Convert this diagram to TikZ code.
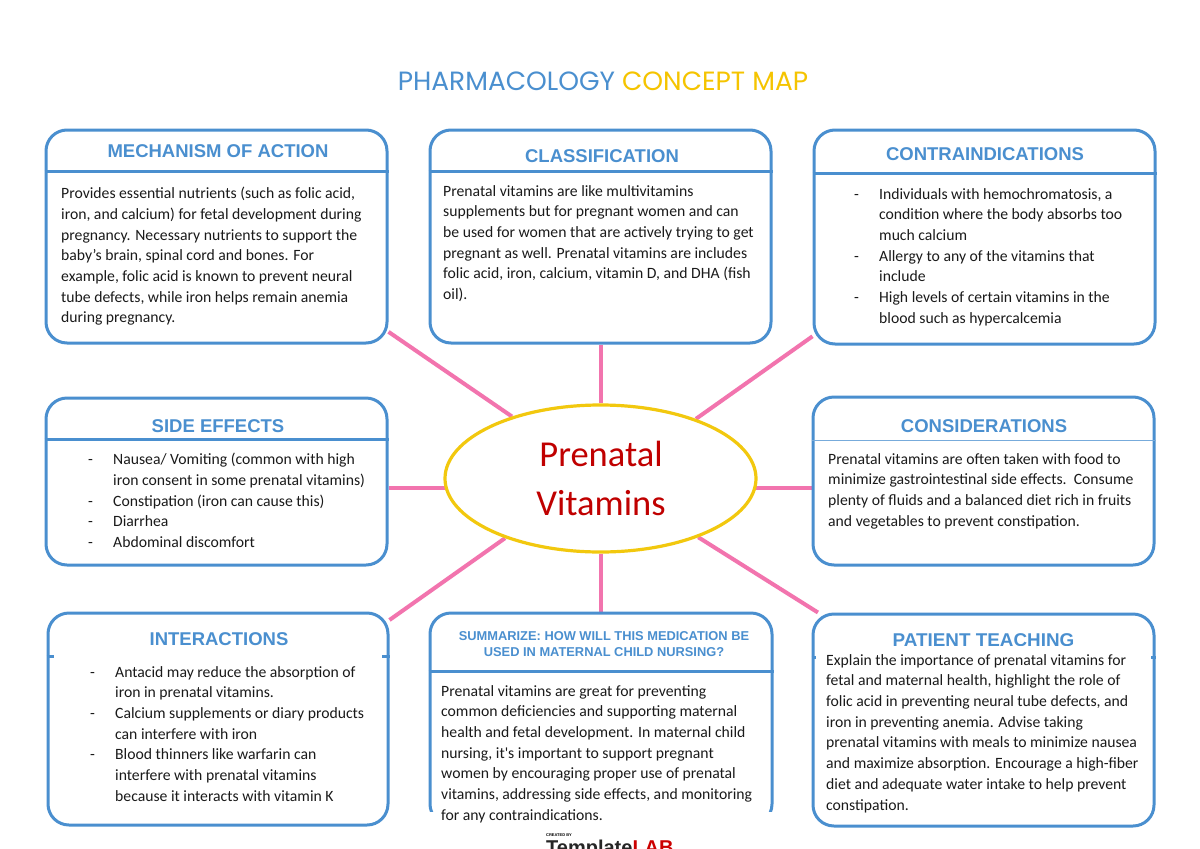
\documentclass[tikz,border=0pt]{standalone}
\usepackage{fontspec}
\setmainfont{Carlito}
\newfontfamily\headfont{Liberation Sans}[BoldFont={Liberation Sans Bold}]
\newfontfamily\titlefont{Poppins}
\usetikzlibrary{shapes.geometric,backgrounds}
\definecolor{boxblue}{HTML}{4A8FCF}
\definecolor{linkpink}{HTML}{F274AE}
\definecolor{ringyellow}{HTML}{F2C80E}
\definecolor{centrered}{HTML}{C00000}
\definecolor{titleyellow}{HTML}{F5C400}
\definecolor{bodyink}{HTML}{1A1A1A}
\newcommand{\di}{\makebox[25pt][l]{-}}
\newcommand{\ci}{\hspace*{25pt}}
\tikzset{
 cbox/.style={draw=boxblue,line width=3pt,rounded corners=21pt,fill=white,minimum width=341pt,inner sep=0pt},
 divider/.style={draw=boxblue,line width=2.6pt},
 link/.style={draw=linkpink,line width=4pt},
 head/.style={font=\headfont\bfseries\fontsize{18.5}{20}\selectfont,text=boxblue,align=center,inner sep=0pt},
 body/.style={font=\fontsize{15.7}{20.7}\selectfont,text=bodyink,align=left,anchor=north west,inner sep=0pt},
}
\begin{document}
\begin{tikzpicture}[x=1pt,y=-1pt]
\useasboundingbox (0,0) rectangle (1200,849);

\node[font=\titlefont\fontsize{26.4}{30}\selectfont,inner sep=0pt] (title) at (603,81) {\textcolor{boxblue}{PHARMACOLOGY} \textcolor{titleyellow}{CONCEPT MAP}};

\node[ellipse,draw=ringyellow,line width=3.2pt,fill=white,minimum width=311pt,minimum height=147pt,inner sep=0pt] (hub) at (600.5,478.5) {};
\node[font=\fontsize{36.5}{48.5}\selectfont,text=centrered,align=center,inner sep=0pt] (hublabel) at (601,478.5) {Prenatal\\Vitamins};
\coordinate (hubrow) at (600.5,487.5);

\node[cbox,minimum height=213pt] (moab) at (216.5,236.5) {};
\node[cbox,minimum height=213pt] (clsb) at (600.5,236.5) {};
\node[cbox,minimum height=214pt] (conb) at (984.5,237) {};
\node[cbox,minimum height=167pt] (sidb) at (216.5,481.5) {};
\node[cbox,minimum height=168pt] (cnsb) at (983.5,481) {};
\node[cbox,minimum width=340pt,minimum height=212pt] (intb) at (218,719) {};
\node[cbox,minimum width=342pt,minimum height=212pt] (sumb) at (601,719) {};
\node[cbox,minimum height=212pt] (patb) at (983.5,720) {};

\begin{scope}[on background layer]
\fill[white] (0,0) rectangle (1200,849);
\draw[link] (hub.145.7) -- (moab.-29.5);
\draw[link] (hub) -- (hub |- clsb.south);
\draw[link] (hub.32.4) -- (conb.210.7);
\draw[link] (hubrow) -- (sidb.east |- hubrow);
\draw[link] (hubrow) -- (cnsb.west |- hubrow);
\draw[link] (hub.212.7) -- (intb.30.8);
\draw[link] (hub) -- (hub |- sumb.north);
\draw[link] (hub.-31.2) -- (patb.147.8);
\end{scope}

\fill[white] (425,812) rectangle (780,835);

\draw[divider] ([yshift=-43pt]moab.north west) -- ([yshift=-43pt]moab.north east);
\draw[divider] ([yshift=-43pt]clsb.north west) -- ([yshift=-43pt]clsb.north east);
\draw[divider] ([yshift=-45pt]conb.north west) -- ([yshift=-45pt]conb.north east);
\draw[divider] ([yshift=-43pt]sidb.north west) -- ([yshift=-43pt]sidb.north east);
\draw[divider,line width=1.6pt,draw=boxblue!75] ([yshift=-45pt]cnsb.north west) -- ([yshift=-45pt]cnsb.north east);
\draw[divider] ([yshift=-60pt]sumb.north west) -- ([yshift=-60pt]sumb.north east);
\draw[divider] ([yshift=-45pt]intb.north west) -- ([yshift=-45pt]intb.north east);
\draw[divider] ([yshift=-45pt]patb.north west) -- ([yshift=-45pt]patb.north east);
% text boxes of the original lie over these two dividers
\fill[white] (54,648) rectangle (382,668);
\fill[white] (816,648) rectangle (1151,668);

\node[head] (h1) at (218,151.5) {MECHANISM OF ACTION};
\node[head] (h2) at (602,156.5) {CLASSIFICATION};
\node[head] (h3) at (985,154.5) {CONTRAINDICATIONS};
\node[head] (h4) at (218,426) {SIDE EFFECTS};
\node[head] (h5) at (984,426) {CONSIDERATIONS};
\node[head] (h6) at (219,639) {INTERACTIONS};
\node[head,font=\headfont\bfseries\fontsize{12.85}{15.6}\selectfont] (h7) at (604,644) {SUMMARIZE: HOW WILL THIS MEDICATION BE\\USED IN MATERNAL CHILD NURSING?};
\node[head] (h8) at (983.5,640) {\scalebox{1.02}[1]{PATIENT TEACHING}};
\fill[white] (816,645.5) rectangle (1151,650);

\node[body] (t1) at (61,187) {Provides essential nutrients (such as folic acid,\\iron, and calcium) for fetal development during\\pregnancy. Necessary nutrients to support the\\baby’s brain, spinal cord and bones. For\\example, folic acid is known to prevent neural\\tube defects, while iron helps remain anemia\\during pregnancy.};
\node[body] (t2) at (443,185) {Prenatal vitamins are like multivitamins\\supplements but for pregnant women and can\\be used for women that are actively trying to get\\pregnant as well. Prenatal vitamins are includes\\folic acid, iron, calcium, vitamin D, and DHA (fish\\oil).};
\node[body] (t3) at (854,188) {\di Individuals with hemochromatosis, a\\\ci condition where the body absorbs too\\\ci much calcium\\\di Allergy to any of the vitamins that\\\ci include\\\di High levels of certain vitamins in the\\\ci blood such as hypercalcemia};
\node[body] (t4) at (88,453) {\di Nausea/ Vomiting (common with high\\\ci iron consent in some prenatal vitamins)\\\di Constipation (iron can cause this)\\\di Diarrhea\\\di Abdominal discomfort};
\node[body] (t5) at (828,453) {Prenatal vitamins are often taken with food to\\minimize gastrointestinal side effects.\ \ Consume\\plenty of fluids and a balanced diet rich in fruits\\and vegetables to prevent constipation.};
\node[body] (t6) at (90,666) {\di Antacid may reduce the absorption of\\\ci iron in prenatal vitamins.\\\di Calcium supplements or diary products\\\ci can interfere with iron\\\di Blood thinners like warfarin can\\\ci interfere with prenatal vitamins\\\ci because it interacts with vitamin K};
\node[body] (t7) at (441,685) {Prenatal vitamins are great for preventing\\common deficiencies and supporting maternal\\health and fetal development. In maternal child\\nursing, it\textquotesingle s important to support pregnant\\women by encouraging proper use of prenatal\\vitamins, addressing side effects, and monitoring\\for any contraindications.};
\node[body] (t8) at (826,654) {Explain the importance of prenatal vitamins for\\fetal and maternal health, highlight the role of\\folic acid in preventing neural tube defects, and\\iron in preventing anemia. Advise taking\\prenatal vitamins with meals to minimize nausea\\and maximize absorption. Encourage a high-fiber\\diet and adequate water intake to help prevent\\constipation.};

\node[font=\headfont\bfseries\fontsize{4}{4}\selectfont,text=black,anchor=west,inner sep=0pt] (logo1) at (546,835) {CREATED BY};
\node[font=\headfont\bfseries\fontsize{20}{22}\selectfont,anchor=base west,inner sep=0pt] (logo2) at (546,854) {\textcolor{black!85}{Template}\textcolor{red!80!black}{LAB}};
\end{tikzpicture}
\end{document}
